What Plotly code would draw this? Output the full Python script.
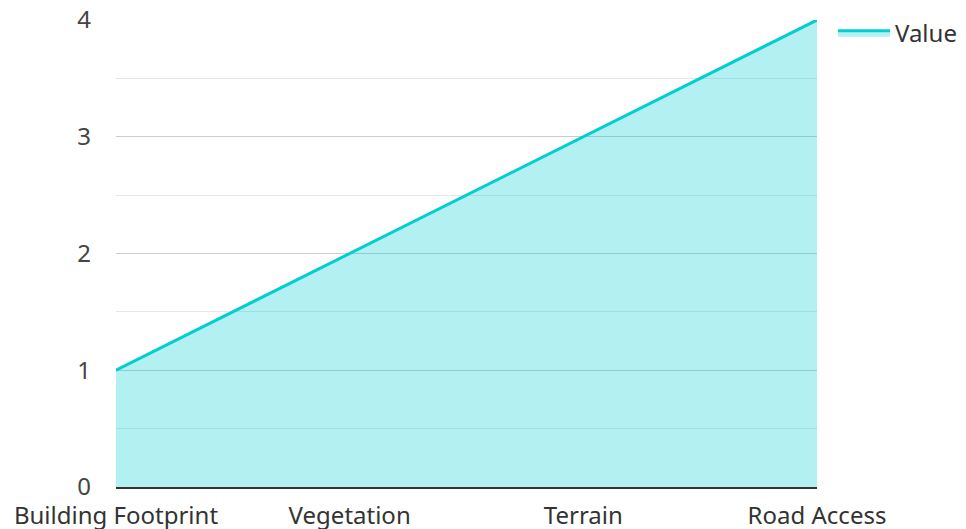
import plotly.graph_objects as go

categories = ["Building Footprint", "Vegetation", "Terrain", "Road Access"]
values = [1, 2, 3, 4]
series_name = "Value"

fig = go.Figure()
fig.add_trace(go.Scatter(
    x=categories, y=values, name=series_name, mode="lines",
    line=dict(color="#00CED1", width=3),
    fill="tozeroy", fillcolor="rgba(0,206,209,0.3)",
))

# the page body has an 8px margin, so the figure is sized/offset to compensate
fig.update_layout(
    width=958, height=521,
    margin=dict(l=108, r=149, t=12, b=42, autoexpand=False),
    paper_bgcolor="white", plot_bgcolor="white",
    font=dict(family="Noto Sans", size=24, color="#444"),
    showlegend=True,
    legend=dict(x=1.0228, y=1.02, xanchor="left", yanchor="top", itemwidth=52,
                font=dict(size=24, color="#333"), bgcolor="rgba(0,0,0,0)"),
    xaxis=dict(range=[0, 3], showgrid=False, showline=True, linecolor="#333",
               linewidth=2, ticks="", ticklabelstandoff=6, layer="above traces",
               automargin=False, ticklabeloverflow="allow",
               tickfont=dict(color="#333")),
    yaxis=dict(range=[0, 4], dtick=1, showgrid=True, gridcolor="#ccc", gridwidth=1,
               zeroline=False, showline=False, ticks="", ticklabelstandoff=24,
               layer="above traces", automargin=False, ticklabeloverflow="allow",
               minor=dict(dtick=0.5, showgrid=True, gridcolor="#e6e6e6", gridwidth=1)),
)

fig.write_html("out.html")
